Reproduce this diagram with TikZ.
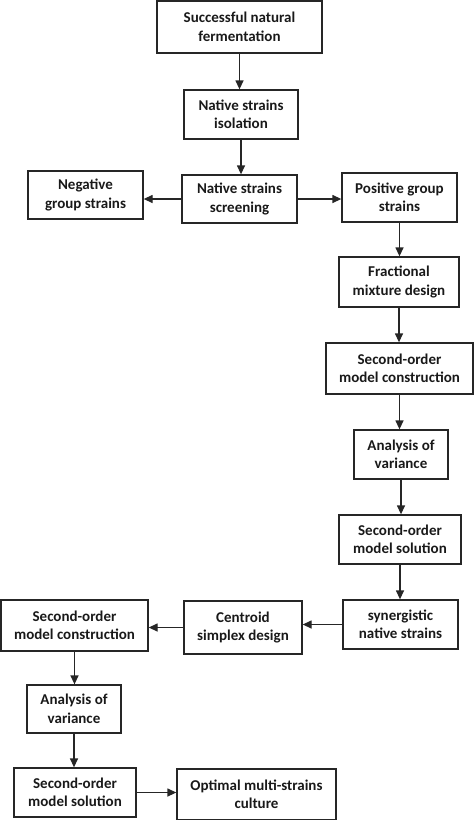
\documentclass[tikz,border=0pt]{standalone}
\usepackage{fontspec}
\setmainfont{Carlito}
\usetikzlibrary{arrows.meta}
\tikzset{>={Triangle[length=9pt,width=8pt]}}
\tikzset{box/.style={draw=black!85, line width=1.3pt, align=center, inner sep=0pt,
    text=black!90, font=\bfseries\fontsize{15}{18.5}\selectfont}}

\begin{document}
\begin{tikzpicture}[x=1pt,y=-1pt,line width=1.3pt,draw=black!85]
                \useasboundingbox (0,0) rectangle (474,820);
                % main column
                \node[box, minimum width=165pt, minimum height=52pt] (success) at (239.5,27) {Successful natural\\fermentation};
                \node[box, minimum width=114pt, minimum height=49pt] (isolation) at (241,114.5) {Native strains\\isolation};
                \node[box, minimum width=115pt, minimum height=48pt] (screening) at (239.5,199) {Native strains\\screening};
                \node[box, minimum width=115pt, minimum height=48pt] (negative) at (85.5,195) {Negative\\group strains};
                \node[box, minimum width=115pt, minimum height=49pt] (positive) at (399.5,197.5) {Positive group\\strains};
                % right column
                \node[box, minimum width=120pt, minimum height=50pt] (fractional) at (399,282) {Fractional\\mixture design};
                \node[box, minimum width=147pt, minimum height=51pt] (constrA) at (399.5,368.5) {Second-order\\model construction};
                \node[box, minimum width=94pt, minimum height=49pt] (varianceA) at (401,454.5) {Analysis of\\variance};
                \node[box, minimum width=122pt, minimum height=49pt] (solutionA) at (400,539.5) {Second-order\\model solution};
                \node[box, minimum width=115pt, minimum height=49pt] (synergy) at (400.5,624.5) {synergistic\\native strains};
                % bottom row
                \node[box, minimum width=118pt, minimum height=53pt] (centroid) at (243,627.5) {Centroid\\simplex design};
                \node[box, minimum width=147pt, minimum height=51pt] (constrB) at (74.5,625.5) {Second-order\\model construction};
                \node[box, minimum width=94pt, minimum height=48pt] (varianceB) at (74,709) {Analysis of\\variance};
                \node[box, minimum width=122pt, minimum height=49pt] (solutionB) at (75,792.5) {Second-order\\model solution};
                \node[box, minimum width=159pt, minimum height=51pt] (optimal) at (256.5,794.5) {Optimal multi-strains\\culture};

                \draw[->] (success.south) -- (success.south |- isolation.north);
                \draw[->] (isolation.south) -- (isolation.south |- screening.north);
                \draw[->] (screening.west) -- (negative.east |- screening.west);
                \draw[->] (screening.east) -- (positive.west |- screening.east);
                \draw[->] (positive.south) -- (positive.south |- fractional.north);
                \draw[->] (fractional.south) -- (fractional.south |- constrA.north);
                \draw[->] (constrA.south) -- (constrA.south |- varianceA.north);
                \draw[->] (varianceA.south) -- (varianceA.south |- solutionA.north);
                \draw[->] (solutionA.south) -- (solutionA.south |- synergy.north);
                \draw[->] (synergy.west) -- (centroid.east |- synergy.west);
                \draw[->] (centroid.west) -- (constrB.east |- centroid.west);
                \draw[->] (constrB.south) -- (constrB.south |- varianceB.north);
                \draw[->] (varianceB.south) -- (varianceB.south |- solutionB.north);
                \draw[->] (solutionB.east) -- (optimal.west |- solutionB.east);
\end{tikzpicture}
\end{document}
